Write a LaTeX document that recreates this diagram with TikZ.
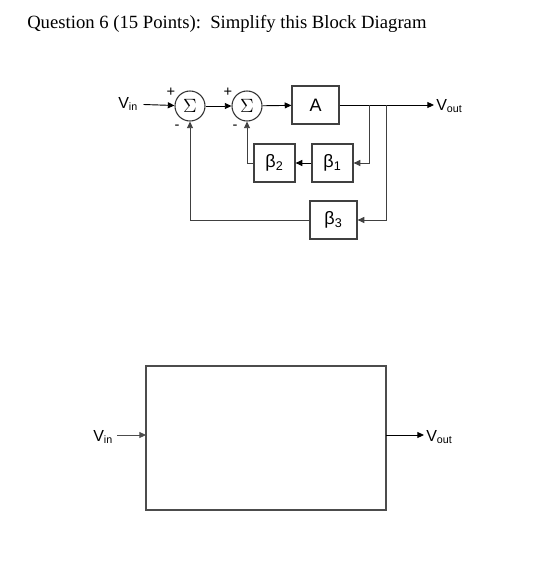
\documentclass[tikz,border=0pt]{standalone}
\usepackage{fontspec}
\setmainfont{Liberation Serif}
\newfontfamily\arial{Liberation Sans}
\usetikzlibrary{arrows.meta}

\tikzset{
	block/.style={draw=black!75,line width=0.9pt,minimum height=28.5pt,inner sep=0pt,font=\arial\fontsize{13.5}{15}\selectfont},
	sumnode/.style={draw=black!80,circle,line width=0.8pt,minimum size=22.5pt,inner sep=0pt,font=\fontsize{14}{15}\selectfont},
	sig/.style={inner sep=0pt,font=\arial\fontsize{11}{12}\selectfont},
	lbl/.style={inner sep=0pt,font=\arial\fontsize{12}{14}\selectfont},
	arr/.style={-{Triangle[length=5pt,width=4.5pt]},line width=0.7pt},
	wire/.style={line width=0.7pt,draw=black!75}
}

\begin{document}
\begin{tikzpicture}[x=0.75pt,y=-0.75pt]
\useasboundingbox (0,0) rectangle (543,571);

\node[anchor=base west,inner sep=0pt,font=\fontsize{14}{16}\selectfont] (title) at (27,28) {Question 6 (15 Points):\ \ Simplify this Block Diagram};

% upper diagram
\node[lbl,anchor=west] (vin) at (118,104) {V\textsubscript{in}};
\node[sumnode] (s1) at (190,106) {$\Sigma$};
\node[sumnode] (s2) at (247,106) {$\Sigma$};
\node[block,minimum width=35.25pt] (A) at (315.5,105) {A};
\node[block,minimum width=30.75pt] (beta1) at (332.5,163) {β\textsubscript{1}};
\node[block,minimum width=30.75pt] (beta2) at (274.5,163) {β\textsubscript{2}};
\node[block,minimum width=35.25pt] (beta3) at (333.5,220) {β\textsubscript{3}};
\coordinate (out) at (434,105);
\node[lbl,anchor=west] (vout) at (436,106) {V\textsubscript{out}};
\coordinate (br1) at (369,105);
\coordinate (br2) at (386,105);

\foreach \s/\x in {s1/171,s2/228}
	\node[sig] (plus\s) at (\x,92) {+};
\foreach \s/\x in {s1/177,s2/235}
	\node[sig] (minus\s) at (\x,127) {-};

\draw[arr,shorten <=4pt] (vin) -- (s1);
\draw[arr] (s1) -- (s2);
\draw[arr] (s2) -- (A);
\draw[arr] (A) -- (out);
\draw[arr,wire] (br1) |- (beta1.east);
\draw[arr,wire] (br2) |- (beta3.east);
\draw[arr] (beta1) -- (beta2);
\draw[arr,wire] (beta2.west) -| (s2.south);
\draw[arr,wire] (beta3.west) -| (s1.south);

% answer box
\node[draw=black!70,line width=0.9pt,minimum width=180pt,minimum height=108pt] (ans) at (266,438) {};
\node[lbl,anchor=west] (vin2) at (93,437) {V\textsubscript{in}};
\node[lbl,anchor=west] (vout2) at (426,437) {V\textsubscript{out}};
\coordinate (in2) at (146,435);
\coordinate (out2) at (386,435);
\coordinate (tip2) at (424,435);
\draw[arr,draw=black!70,shorten <=3pt] (vin2.east|-in2) -- (in2);
\draw[arr] (out2) -- (tip2);
\end{tikzpicture}
\end{document}
